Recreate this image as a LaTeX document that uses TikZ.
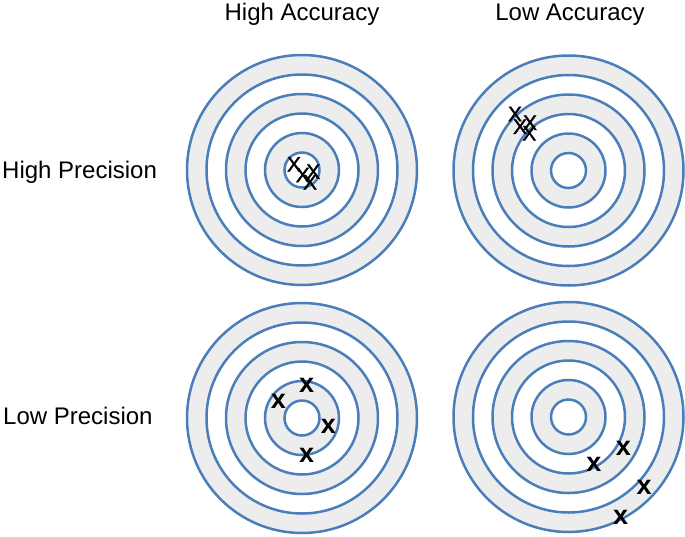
\documentclass[tikz,border=0pt]{standalone}
\usepackage{fontspec}
\setmainfont{Liberation Sans}
\newfontfamily\hitfont[FakeBold=1.2]{Liberation Sans}
\definecolor{ringblue}{HTML}{4A7EBB}
\definecolor{ringgray}{HTML}{EDEDED}
\begin{document}
\begin{tikzpicture}[x=1pt,y=-1pt,
  ring/.style={circle, draw=ringblue, line width=2.5pt, inner sep=0pt, outer sep=0pt},
  lab/.style={font=\fontsize{24}{24}\selectfont, anchor=base, inner sep=0pt},
  hitA/.style={font=\hitfont\fontsize{21}{21}\selectfont, inner sep=0pt},
  hitB/.style={font=\fontsize{27}{27}\selectfont\bfseries, inner sep=0pt}]
\useasboundingbox (0,0) rectangle (685,536);
\foreach \n/\cx/\cy in {tl/302/170, tr/568.5/170.5, bl/302/418, br/568.5/417}{
  \foreach \i/\r/\f in {1/115/ringgray, 2/95.5/white, 3/76/ringgray, 4/56.5/white, 5/37/ringgray, 6/17.5/white}{
    \node[ring, fill=\f, minimum size={2*\r pt}] (\n\i) at (\cx,\cy) {};
  }
}
\node[lab] (ha) at (302,20) {High Accuracy};
\node[lab] (la) at (570,20) {Low Accuracy};
\node[lab, anchor=base west] (hp) at (2,178) {High Precision};
\node[lab, anchor=base west] (lp) at (3,424) {Low Precision};
% high accuracy, high precision
\node[hitA] (a1) at (294,164.3) {X};
\node[hitA] (a2) at (313.3,171.7) {X};
\node[hitA] (a3) at (302.7,175) {X};
\node[hitA] (a4) at (310,182.3) {X};
% low accuracy, high precision
\node[hitA] (b1) at (515,114) {X};
\node[hitA] (b2) at (530,122.7) {X};
\node[hitA] (b3) at (520,126.7) {X};
\node[hitA] (b4) at (529.3,133.3) {X};
% high accuracy, low precision
\node[hitB] (c1) at (306.7,385) {x};
\node[hitB] (c2) at (278.3,401.7) {x};
\node[hitB] (c3) at (328.3,426) {x};
\node[hitB] (c4) at (306.7,455) {x};
% low accuracy, low precision
\node[hitB] (d1) at (623.3,448.3) {x};
\node[hitB] (d2) at (594,464.3) {x};
\node[hitB] (d3) at (644,487.3) {x};
\node[hitB] (d4) at (620.7,517.3) {x};
\end{tikzpicture}
\end{document}
